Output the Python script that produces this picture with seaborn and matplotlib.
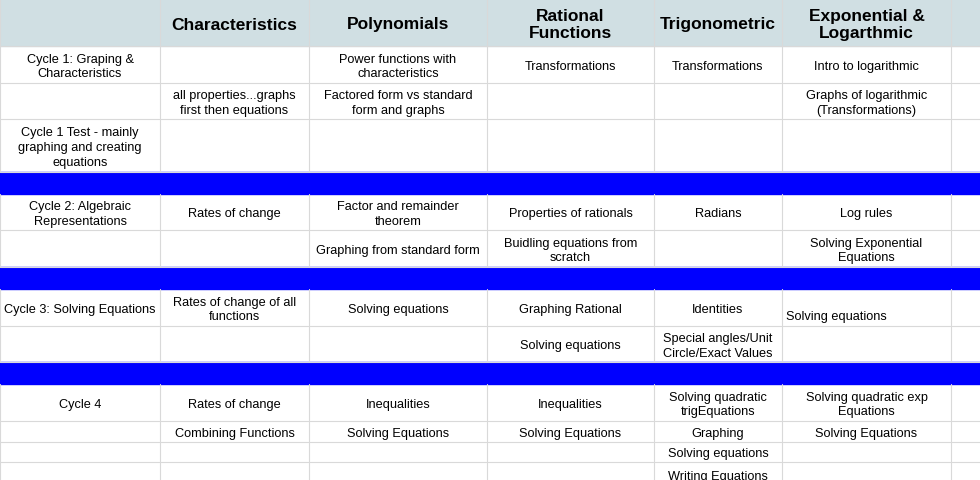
import matplotlib
matplotlib.use("Agg")
import matplotlib.pyplot as plt
import seaborn as sns
from matplotlib.patches import Rectangle

sns.set_theme(style="white")
plt.rcParams['font.family'] = ['Liberation Sans', 'DejaVu Sans']
plt.rcParams['text.color'] = 'black'

headers = ["", "Characteristics", "Polynomials", "Rational\nFunctions", "Trigonometric", "Exponential &\nLogarthmic", ""]
col_edges = [0, 160, 309, 487, 654, 782, 951, 1010]
row_edges = [0, 47, 84, 120, 173, 195, 231, 268, 290, 327, 363, 385, 422, 443, 463, 484]
row_kinds = ['h', 'r', 'r', 'r', 'b', 'r', 'r', 'b', 'r', 'r', 'b', 'r', 'r', 'r', 'r']
cells = [
    ["Cycle 1: Graping &\nCharacteristics", "", "Power functions with\ncharacteristics", "Transformations", "Transformations", "Intro to logarithmic", ""],
    ["", "all properties...graphs\nfirst then equations", "Factored form vs standard\nform and graphs", "", "", "Graphs of logarithmic\n(Transformations)", ""],
    ["Cycle 1 Test - mainly\ngraphing and creating\nequations", "", "", "", "", "", ""],
    ["Cycle 2: Algebraic\nRepresentations", "Rates of change", "Factor and remainder\ntheorem", "Properties of rationals", "Radians", "Log rules", ""],
    ["", "", "Graphing from standard form", "Buidling equations from\nscratch", "", "Solving Exponential\nEquations", ""],
    ["Cycle 3: Solving Equations", "Rates of change of all\nfunctions", "Solving equations", "Graphing Rational", "Identities", "Solving equations", ""],
    ["", "", "", "Solving equations", "Special angles/Unit\nCircle/Exact Values", "", ""],
    ["Cycle 4", "Rates of change", "Inequalities", "Inequalities", "Solving quadratic\ntrigEquations", "Solving quadratic exp\nEquations", ""],
    ["", "Combining Functions", "Solving Equations", "Solving Equations", "Graphing", "Solving Equations", ""],
    ["", "", "", "", "Solving equations", "", ""],
    ["", "", "", "", "Writing Equations", "", ""],
]

fig = plt.figure(figsize=(9.8, 4.81), dpi=100)
ax = fig.add_axes([0, 0, 1, 1])
ax.set_xlim(0, 980)
ax.set_ylim(481, 0)
ax.axis('off')

grid = "#d9d9d9"
ri = 0
for k, kind in enumerate(row_kinds):
    y0, y1 = row_edges[k], row_edges[k + 1]
    if kind == 'b':
        ax.add_patch(Rectangle((0, y0), 980, y1 - y0, color="#0000ff", zorder=1))
        continue
    if kind == 'h':
        ax.add_patch(Rectangle((0, y0), 980, y1 - y0, color="#d0dfe3", zorder=0))
    for c in range(len(col_edges) - 1):
        ax.plot([col_edges[c], col_edges[c]], [y0, y1], color=grid, lw=0.8, zorder=2)
    ax.plot([0, 980], [y1, y1], color=grid, lw=0.8, zorder=2)
    for c in range(len(col_edges) - 1):
        xc = (col_edges[c] + min(col_edges[c + 1], 980)) / 2
        yc = (y0 + y1) / 2 + 1.5
        if kind == 'h':
            t = headers[c]
            if t:
                ax.text(xc, yc, t, ha='center', va='center', fontsize=12.5,
                        fontweight='bold', linespacing=1.2, color='black', zorder=3)
        else:
            t = cells[ri][c]
            if not t:
                continue
            if ri == 5 and c == 5:
                ax.text(col_edges[c] + 4, yc + 7, t, ha='left', va='center', fontsize=9.2, color='black', zorder=3)
            elif ri == 10:
                ax.text(xc, y1 - 7, t, ha='center', va='center', fontsize=9.2, color='black', zorder=3)
            else:
                ax.text(xc, yc, t, ha='center', va='center', fontsize=9.2,
                        linespacing=1.3, color='black', zorder=3)
    if kind == 'r':
        ri += 1

fig.savefig("out.png", dpi=100)
